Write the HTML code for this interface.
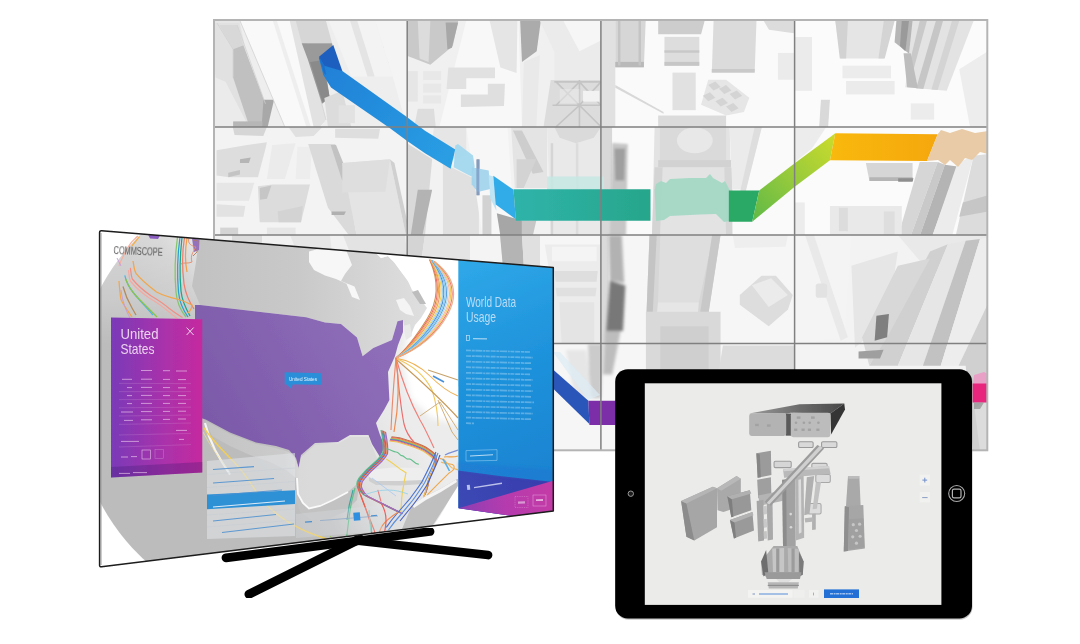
<!DOCTYPE html>
<html>
<head>
<meta charset="utf-8">
<title>Device mockups</title>
<style>
html,body{margin:0;padding:0;background:#ffffff;}
body{width:1080px;height:644px;overflow:hidden;font-family:"Liberation Sans",sans-serif;}
svg{display:block;position:absolute;left:0;top:0;}
text{font-family:"Liberation Sans",sans-serif;}
</style>
</head>
<body>
<svg width="1080" height="644" viewBox="0 0 1080 644">
<defs>
  <clipPath id="wallclip"><rect x="213" y="19" width="775" height="432"/></clipPath>
  <filter id="b1" x="-5%" y="-5%" width="110%" height="110%"><feGaussianBlur stdDeviation="0.7"/></filter>
  <filter id="b2" x="-10%" y="-10%" width="120%" height="120%"><feGaussianBlur stdDeviation="1.6"/></filter>
  <filter id="b8" x="-30%" y="-10%" width="160%" height="120%"><feGaussianBlur stdDeviation="7"/></filter>
  <filter id="b3" x="-20%" y="-20%" width="140%" height="140%"><feGaussianBlur stdDeviation="3"/></filter>
  <linearGradient id="gBlue" gradientUnits="userSpaceOnUse" x1="320" y1="60" x2="455" y2="160">
    <stop offset="0" stop-color="#1f7fd6"/><stop offset="1" stop-color="#2a9fe4"/>
  </linearGradient>
  <linearGradient id="gTeal" gradientUnits="userSpaceOnUse" x1="514" y1="0" x2="650" y2="0">
    <stop offset="0" stop-color="#2fb3aa"/><stop offset="1" stop-color="#27a68b"/>
  </linearGradient>
  <linearGradient id="gLime" gradientUnits="userSpaceOnUse" x1="752" y1="215" x2="835" y2="140">
    <stop offset="0" stop-color="#62ba46"/><stop offset="0.45" stop-color="#93c93d"/><stop offset="1" stop-color="#c8da2c"/>
  </linearGradient>
  <linearGradient id="gOrange" gradientUnits="userSpaceOnUse" x1="830" y1="0" x2="938" y2="0">
    <stop offset="0" stop-color="#f9b90a"/><stop offset="1" stop-color="#f5a70f"/>
  </linearGradient>
<filter id="soft" x="0" y="0" width="1080" height="644" filterUnits="userSpaceOnUse"><feGaussianBlur stdDeviation="0.55"/></filter>
</defs>
<rect width="1080" height="644" fill="#ffffff"/>
<g filter="url(#soft)">
<!-- ================= VIDEO WALL ================= -->
<g clip-path="url(#wallclip)">
<rect x="213" y="19" width="775" height="432" fill="#efefef"/>
<g filter="url(#b1)">
<!-- cell 0,0 -->
<g transform="translate(213,19) scale(0.17963)">
  <rect x="0" y="0" width="1080" height="601" fill="#eeeeee"/>
  <polygon points="0,0 146,0 281,646 0,646" fill="#e6e6e6"/>
  <polygon points="11,22 146,22 281,646 112,646 11,300" fill="#e1e1e1"/>
  <polygon points="34,34 135,34 169,146 112,169" fill="#d8d8d8"/>
  <polygon points="112,169 169,146 292,472 270,640 213,629 112,326" fill="#c0c0c0"/>
  <polygon points="0,320 70,350 200,601 0,601" fill="#ebebeb"/>
  <polygon points="281,450 340,450 303,607 268,640" fill="#a8a8a8"/>
  <polygon points="112,570 275,570 275,601 112,601" fill="#b6b6b6"/>
  <polygon points="146,0 483,0 629,562 600,601 400,601" fill="#f9f9f9"/>
  <polygon points="425,0 483,0 629,562 596,601 560,601" fill="#e2e2e2"/>
  <polygon points="330,0 352,0 545,601 520,601" fill="#eeeeee"/>
  <g stroke="#cfcfcf" stroke-width="4" fill="none"><path d="M146,0 L400,601 M483,0 L629,562 M22,22 L112,169 L112,326 M135,34 L292,472"/></g>
  <polygon points="461,11 629,11 663,135 494,135" fill="#d6d6d6"/>
  <polygon points="494,135 663,135 674,202 629,300 650,440 607,472 528,225" fill="#9a9a9a"/>
  <polygon points="540,240 610,230 650,440 610,465" fill="#8a8a8a"/>
  <polygon points="640,0 900,0 1000,320 770,320" fill="#f3f3f3"/>
  <polygon points="760,0 800,0 900,320 860,320" fill="#e4e4e4"/>
  <polygon points="620,440 720,400 770,601 640,601" fill="#dcdcdc"/>
  <rect x="950" y="90" width="110" height="70" fill="#d9d9d9"/>
  <rect x="975" y="180" width="80" height="65" fill="#dddddd"/>
  <rect x="700" y="480" width="90" height="100" fill="#e2e2e2"/>
  <polygon points="900,0 1080,0 1080,601 1000,320" fill="#f4f4f4"/>
</g>
<!-- cell 0,1 -->
<g transform="translate(407,19) scale(0.17963)">
  <rect x="0" y="0" width="1080" height="601" fill="#f0f0f0"/>
  <polygon points="0,10 285,10 255,150 130,255 0,205" fill="#c9c9c9"/>
  <polygon points="60,10 130,10 120,240 70,220" fill="#dcdcdc"/>
  <polygon points="215,20 285,20 250,160 225,170" fill="#a8a8a8"/>
  <polygon points="330,10 620,10 640,601 180,601" fill="#f8f8f8"/>
  <polygon points="460,10 615,10 610,300 520,270" fill="#e5e5e5"/>
  <polygon points="630,10 745,10 722,180 640,240" fill="#ababab"/>
  <polygon points="230,270 490,270 490,330 330,330 330,390 220,390" fill="#e1e1e1"/>
  <polygon points="300,420 450,420 450,360 545,360 540,485 300,490" fill="#dfdfdf"/>
  <rect x="0" y="290" width="60" height="170" fill="#e6e6e6"/>
  <rect x="90" y="290" width="100" height="50" fill="#e8e8e8"/>
  <rect x="90" y="360" width="100" height="50" fill="#e8e8e8"/>
  <rect x="90" y="425" width="100" height="45" fill="#e8e8e8"/>
  <polygon points="60,500 150,500 160,601 40,601" fill="#dddddd"/>
  <polygon points="650,240 740,200 720,601 640,601" fill="#e9e9e9"/>
  <polygon points="740,10 1080,10 1080,340 820,340 820,180" fill="#ebebeb"/>
  <polygon points="870,10 1080,10 1080,120 960,180" fill="#f6f6f6"/>
  <polygon points="800,340 1080,340 1080,601 760,601" fill="#dcdcdc"/>
  <g stroke="#c4c4c4" stroke-width="9" fill="none"><path d="M820,350 L1080,350 M810,480 L1080,480 M830,350 L960,480 L830,600 M960,350 L830,480 M960,350 L1080,480 M1080,350 L960,480 L1080,600 M960,340 L960,601"/></g>
  <polygon points="850,390 960,390 960,470 850,470" fill="#ececec" opacity="0.5"/>
  <polygon points="980,400 1070,400 1070,460 980,460" fill="#f2f2f2"/>
</g>
<!-- cell 0,2 -->
<g transform="translate(601,19) scale(0.1787)">
  <rect x="0" y="0" width="1080" height="604" fill="#fafafa"/>
  <rect x="0" y="0" width="80" height="604" fill="#e1e1e1"/>
  <polygon points="80,10 250,10 240,270 80,270" fill="#d6d6d6"/>
  <rect x="80" y="240" width="160" height="30" fill="#b9b9b9"/>
  <rect x="95" y="10" width="14" height="250" fill="#c4c4c4"/>
  <rect x="210" y="10" width="14" height="250" fill="#c4c4c4"/>
  <polygon points="320,10 580,10 560,85 320,85" fill="#cdcdcd"/>
  <rect x="355" y="100" width="195" height="160" fill="#dddddd"/>
  <rect x="355" y="175" width="195" height="14" fill="#c8c8c8"/>
  <rect x="355" y="240" width="195" height="22" fill="#c6c6c6"/>
  <polygon points="630,10 870,10 860,300 620,300" fill="#dbdbdb"/>
  <rect x="620" y="280" width="240" height="20" fill="#c9c9c9"/>
  <rect x="400" y="300" width="130" height="210" fill="#e1e1e1"/>
  <polygon points="600,340 700,340 830,440 800,520 700,540 560,480" fill="#e6e6e6"/>
  <g fill="#d4d4d4"><polygon points="600,370 640,350 670,380 630,400"/><polygon points="660,390 700,370 730,400 690,420"/><polygon points="720,420 760,400 790,430 750,450"/><polygon points="570,430 610,410 640,440 600,460"/><polygon points="640,460 680,440 710,470 670,490"/><polygon points="700,490 740,470 770,500 730,520"/></g>
  <polygon points="320,540 700,540 700,604 320,604" fill="#dbdbdb"/>
  <polygon points="80,370 350,520 350,530 80,385" fill="#d8d8d8"/>
  <polygon points="910,10 1080,10 1080,80 940,60" fill="#dcdcdc"/>
  <rect x="990" y="190" width="90" height="150" fill="#ebebeb"/>
</g>
<!-- cell 0,3 -->
<g transform="translate(794,19) scale(0.17963)">
  <rect x="0" y="0" width="1080" height="601" fill="#fbfbfb"/>
  <rect x="0" y="100" width="100" height="300" fill="#ebebeb"/>
  <polygon points="230,10 560,10 500,220 260,220" fill="#e5e5e5"/>
  <polygon points="230,10 300,10 290,220 255,220" fill="#d2d2d2"/>
  <polygon points="500,10 560,10 505,220 470,220" fill="#d4d4d4"/>
  <polygon points="570,10 730,10 650,200 560,130" fill="#b6b6b6"/>
  <polygon points="600,10 640,10 620,180 590,150" fill="#9a9a9a"/>
  <polygon points="660,10 1000,10 850,400 620,380" fill="#e3e3e3"/>
  <polygon points="790,10 830,10 720,390 680,385" fill="#c6c6c6"/>
  <polygon points="700,10 740,10 660,300 630,300" fill="#c9c9c9"/>
  <polygon points="880,10 920,10 800,395 765,392" fill="#d4d4d4"/>
  <polygon points="610,190 650,190 690,385 630,380" fill="#bdbdbd"/>
  <rect x="270" y="260" width="270" height="70" fill="#ececec"/>
  <rect x="290" y="345" width="270" height="75" fill="#ebebeb"/>
  <rect x="650" y="470" width="130" height="90" fill="#ececec"/>
  <polygon points="150,450 200,450 190,601 140,601" fill="#d9d9d9"/>
  <polygon points="920,280 1080,180 1080,601 980,601" fill="#ededed"/>
</g>
<!-- cell 1,0 -->
<g transform="translate(213,127) scale(0.17963)">
  <rect x="0" y="0" width="1080" height="607" fill="#f3f3f3"/>
  <polygon points="110,0 300,0 280,50 120,45" fill="#d6d6d6"/>
  <polygon points="420,0 610,0 560,50 460,55" fill="#e0e0e0"/>
  <polygon points="680,10 930,10 920,65 680,60" fill="#dedede"/>
  <polygon points="20,130 190,100 300,85 290,130 250,280 90,280 20,270" fill="#dddddd"/>
  <polygon points="150,180 210,170 200,200 150,200" fill="#b5b5b5"/>
  <polygon points="85,255 150,240 150,265 85,280" fill="#c4c4c4"/>
  <polygon points="330,100 460,90 400,290 300,290" fill="#ebebeb"/>
  <polygon points="470,110 550,110 540,290 460,290" fill="#ededed"/>
  <polygon points="20,310 230,310 200,410 20,410" fill="#e6e6e6"/>
  <polygon points="20,430 180,440 170,500 20,500" fill="#e2e2e2"/>
  <polygon points="250,330 330,320 540,320 490,530 260,530" fill="#dcdcdc"/>
  <polygon points="260,340 325,325 300,400 262,405" fill="#c6c6c6"/>
  <polygon points="360,470 500,440 490,530 365,530" fill="#d3d3d3"/>
  <polygon points="40,560 140,560 140,607 40,607" fill="#d4d4d4"/>
  <polygon points="530,95 680,95 740,250 800,607 760,607 640,450" fill="#dadada"/>
  <polygon points="655,100 685,100 745,250 720,300" fill="#c2c2c2"/>
  <polygon points="720,200 985,180 1075,607 800,607" fill="#e4e4e4"/>
  <polygon points="720,200 985,180 960,360 720,365" fill="#dedede"/>
  <polygon points="985,180 1010,200 1080,520 1075,607" fill="#d0d0d0"/>
  <polygon points="660,470 740,470 730,490 660,490" fill="#b0b0b0"/>
  <polygon points="300,560 460,560 460,607 300,607" fill="#e6e6e6"/>
</g>
<!-- cell 1,1 -->
<g transform="translate(407,127) scale(0.17963)">
  <rect x="0" y="0" width="1080" height="607" fill="#f2f2f2"/>
  <polygon points="0,90 140,180 100,607 0,607" fill="#d9d9d9"/>
  <polygon points="60,350 140,350 85,607 20,607" fill="#b3b3b3"/>
  <polygon points="150,0 330,0 330,150 200,200 130,170" fill="#e6e6e6"/>
  <polygon points="200,200 400,300 400,607 200,607" fill="#e0e0e0"/>
  <polygon points="330,0 560,0 600,607 420,607" fill="#f7f7f7"/>
  <rect x="388" y="180" width="16" height="200" fill="#9a9a9a"/>
  <polygon points="420,380 470,380 470,607 420,607" fill="#d2d2d2"/>
  <polygon points="500,480 640,520 640,607 520,607" fill="#a6a6a6"/>
  <polygon points="580,0 780,0 780,340 600,340" fill="#e4e4e4"/>
  <polygon points="590,20 640,20 760,250 700,260" fill="#cdcdcd"/>
  <polygon points="610,180 720,180 650,340 610,340" fill="#d3d3d3"/>
  <polygon points="780,0 1080,0 1080,607 800,607" fill="#e9e9e9"/>
  <polygon points="820,0 1080,0 1040,60 940,90 850,60" fill="#dadada"/>
  <rect x="800" y="90" width="14" height="517" fill="#d5d5d5"/>
  <rect x="940" y="90" width="14" height="517" fill="#dcdcdc"/>
  <polygon points="640,520 720,520 700,607 640,607" fill="#c6c6c6"/>
</g>
<!-- cell 1,2 -->
<g transform="translate(601,127) scale(0.1787)">
  <rect x="0" y="0" width="1080" height="610" fill="#fafafa"/>
  <rect x="0" y="0" width="62" height="610" fill="#d8d8d8"/>
  <g filter="url(#b8)"><polygon points="62,90 150,95 140,610 50,610" fill="#c6c6c6"/>
  <polygon points="75,120 135,120 130,300 80,300" fill="#9f9f9f"/></g>
  <polygon points="300,0 720,0 735,610 285,610" fill="#e3e3e3"/>
  <polygon points="330,0 700,0 700,185 330,185" fill="#dadada"/>
  <ellipse cx="525" cy="75" rx="100" ry="72" fill="#e8e8e8"/>
  <rect x="320" y="185" width="410" height="40" fill="#d2d2d2"/>
  <polygon points="300,225 345,225 330,610 285,610" fill="#d4d4d4"/>
  <polygon points="690,225 735,225 735,610 700,610" fill="#d6d6d6"/>
  <polygon points="720,0 900,0 810,350 735,350" fill="#ebebeb"/>
  <polygon points="860,0 900,0 800,400 770,400" fill="#dedede"/>
</g>
<!-- cell 1,3 -->
<g transform="translate(794,127) scale(0.17963)">
  <rect x="0" y="0" width="1080" height="607" fill="#fbfbfb"/>
  <polygon points="0,0 180,0 100,120 0,200" fill="#ececec"/>
  <polygon points="400,200 660,200 660,300 420,300" fill="#d6d6d6"/>
  <polygon points="420,280 660,280 660,300 420,300" fill="#b5b5b5"/>
  <polygon points="580,285 665,285 660,305 580,305" fill="#8e8e8e"/>
  <polygon points="700,195 800,195 650,607 580,607" fill="#d6d6d6"/>
  <polygon points="800,195 840,210 700,607 650,607" fill="#c9c9c9"/>
  <polygon points="840,210 910,220 770,607 700,607" fill="#b4b4b4"/>
  <polygon points="910,200 1000,160 880,607 770,607" fill="#ececec"/>
  <polygon points="1000,160 1080,150 1080,607 900,607" fill="#dcdcdc"/>
  <polygon points="940,420 1080,380 1080,470 920,500" fill="#c6c6c6"/>
  <polygon points="200,440 600,440 600,607 200,607" fill="#e9e9e9"/>
  <polygon points="250,450 300,450 300,580 250,580" fill="#dcdcdc"/>
  <polygon points="500,470 560,470 560,607 500,607" fill="#dedede"/>
  <rect x="0" y="420" width="60" height="187" fill="#ececec"/>
</g>
</g>
</g>
<g clip-path="url(#wallclip)">
<g filter="url(#b1)">
<!-- row 3 wedge above TV -->
<g>
  <polygon points="213,235 407,235 407,262 213,244" fill="#f1f1f1"/>
  <polygon points="343,235 405,235 408,262 352,258" fill="#e3e3e3"/>
  <polygon points="232,235 262,235 262,247 232,245" fill="#dcdcdc"/>
  <polygon points="290,235 330,235 332,254 296,250" fill="#e6e6e6"/>
  <polygon points="407,235 425,235 421,263 407,262" fill="#d4d4d4"/>
  <polygon points="425,235 470,235 470,266 421,263" fill="#e4e4e4"/>
  <polygon points="470,235 500,235 503,268 470,266" fill="#f4f4f4"/>
  <polygon points="500,235 522,235 524,270 503,268" fill="#b4b4b4"/>
  <polygon points="522,235 553,235 553,272 524,270" fill="#e0e0e0"/>
</g>
<!-- rows 3-4 left/middle : zoom [540,230,800,375] scale 4.154 -->
<g transform="translate(540,230) scale(0.24074)">
  <rect x="0" y="20" width="1080" height="920" fill="#f6f6f6"/>
  <polygon points="20,60 250,60 250,470 60,470 60,300" fill="#ececec"/>
  <polygon points="50,70 235,70 235,130 50,130" fill="#f4f4f4"/>
  <polygon points="60,170 240,170 235,215 65,215" fill="#dedede"/>
  <polygon points="65,240 235,240 230,275 70,275" fill="#e0e0e0"/>
  <polygon points="80,300 225,300 225,470 90,470" fill="#e4e4e4"/>
  <polygon points="250,20 285,20 285,470 250,470" fill="#dadada"/>
  <polygon points="455,20 750,20 690,410 440,410" fill="#d6d6d6"/>
  <polygon points="500,20 720,20 660,300 490,300" fill="#dedede"/>
  <polygon points="455,20 485,20 465,410 440,410" fill="#c4c4c4"/>
  <polygon points="715,20 750,20 690,410 655,410" fill="#c8c8c8"/>
  <polygon points="490,300 660,300 650,410 480,410" fill="#e6e6e6"/>
  <polygon points="800,20 1030,20 1020,70 810,75" fill="#eeeeee"/>
  <polygon points="830,270 920,190 980,190 1050,270 1030,330 950,400 830,310" fill="#dddddd"/>
  <polygon points="880,230 960,200 1030,270 950,320" fill="#ebebeb"/>
  <polygon points="440,340 750,340 750,600 440,600" fill="#d9d9d9"/>
  <polygon points="500,400 700,400 700,600 500,600" fill="#cfcfcf"/>
  <polygon points="760,480 1080,480 1080,600 740,600" fill="#dcdcdc"/>
</g>
<g filter="url(#b2)">
  <polygon points="608.6,235 621.8,235 624.2,283 609.8,280.5" fill="#b2b2b2"/>
  <polygon points="609.8,280.5 625.4,285.4 623,331 606.2,331" fill="#787878"/>
  <polygon points="605,331 620.6,331 612.2,374.4 603,374.4" fill="#bdbdbd"/>
  <polygon points="588,344 603,344 601,398 590,398" fill="#cbcbcb"/>
  <polygon points="566,350 586,350 592,398 575,398" fill="#e6e6e6"/>
</g>
<!-- rows 3-4 right : zoom [780,230,1000,460] scale 2.8 -->
<g transform="translate(780,230) scale(0.35714)">
  <rect x="40" y="14" width="545" height="610" fill="#f3f3f3"/>
  <polygon points="40,14 200,14 180,300 40,320" fill="#f4f4f4"/>
  <polygon points="70,14 95,14 190,300 170,310" fill="#e9e9e9"/>
  <rect x="100" y="150" width="32" height="40" rx="8" fill="#e2e2e2"/>
  <polygon points="200,100 330,60 300,250 210,330" fill="#e6e6e6"/>
  <polygon points="330,14 585,14 585,120 420,120" fill="#e9e9e9"/>
  <polygon points="420,60 470,40 330,380 250,380" fill="#d0d0d0"/>
  <polygon points="470,40 520,30 400,380 330,380" fill="#e6e6e6"/>
  <polygon points="520,30 560,25 450,380 400,380" fill="#c2c2c2"/>
  <polygon points="560,25 585,20 585,200 500,380 450,380" fill="#ededed"/>
  <polygon points="585,200 585,620 540,620 520,380 500,380" fill="#d0d0d0"/>
  <polygon points="330,100 420,80 300,300 250,380 230,300" fill="#d8d8d8"/>
  <polygon points="270,240 305,235 300,300 265,310" fill="#7f7f7f"/>
  <polygon points="220,340 290,335 280,360 220,360" fill="#9f9f9f"/>
  <polygon points="545,500 585,470 585,620 560,620" fill="#dcdcdc"/>
</g>
</g>
</g>
<g clip-path="url(#wallclip)">
  <!-- faint translucent pieces -->
  <polygon points="547,176.4 604,176.4 604,190 547,190" fill="#c6e8e3" opacity="0.85"/>
  <!-- main blue diagonal -->
  <polygon points="318.8,57.5 333,60 342.3,71 390,105 406.5,116.7 425,130.8 455.3,149.4 453,159 450.6,168.8 425,153.3 406.5,140.4 390,128.3 331,87.5 323.3,75" fill="url(#gBlue)"/>
  <polygon points="319,56.7 333.3,45 342.3,71.1 324.4,65.7" fill="#1f5fbe"/>
  <polygon points="319,56.7 324.4,65.7 326,75 324,73" fill="#1b6fcb"/>
  <!-- translucent through glass -->
  <polygon points="455.3,145.5 458,144 473,155.6 474.7,166.5 471.6,176.6 468.5,175 453.7,167.3" fill="#a4d8ef" opacity="0.95" filter="url(#b1)"/>
  <polygon points="471.6,167.3 488.7,170.4 490.2,189 477.8,192 471.6,184.3" fill="#9fd2ec" opacity="0.9" filter="url(#b1)"/>
  <polygon points="488.7,175 493.3,176.6 496.4,210.7 490.2,198.3" fill="#b9e2f3" opacity="0.9" filter="url(#b1)"/>
  <polygon points="476.4,159.5 479.2,159.5 479.2,195.2 476.4,195.2" fill="#7f9cc4" opacity="0.8"/>
  <polygon points="493.3,175.8 513.5,189.8 515.8,219.3 495.7,204.5" fill="#33abe9"/>
  <!-- teal flat -->
  <polygon points="513.5,189.2 650.5,189.2 650.5,220.7 515.8,220.7" fill="url(#gTeal)"/>
  <!-- translucent green over tower -->
  <path d="M654.6,190 L656,184 L661,181 L666,183 L670,179 L690,178 L706,178 L710,174 L713,178 L722,183 L725,181 L729.7,190 L729.7,221 L724,222 L716,214 L700,214.5 L670,216 L664,220 L656,221 Z" fill="#a5d9c6" opacity="0.95" filter="url(#b1)"/>
  <polygon points="728.8,190.4 759.2,190.4 752.2,221.7 728.8,221.7" fill="#2aa865"/>
  <polygon points="759.2,190.4 794,163.8 835.3,133.3 830,160.2 794,187.2 752.2,221.7" fill="url(#gLime)"/>
  <polygon points="835.3,133.3 937.7,134.2 927,161.1 830,160.2" fill="url(#gOrange)"/>
  <path d="M937.7,134.2 L941,130 L950,133 L962,129 L975,133 L988,131 L988,154 L980,152 L972,160 L965,158 L958,167 L950,160 L945,165 L938,160 L927,161.1 Z" fill="#e8c9a3" opacity="0.95" filter="url(#b1)"/>
  <!-- lower blue / purple -->
  <polygon points="553,352 560,352 600,395 588,400" fill="#dcebf5" opacity="0.7"/>
  <polygon points="553,369.4 588.4,400.7 589.4,424 553,388.6" fill="#2b57ba"/>
  <polygon points="588.4,400.7 616,400.7 616,425 589.4,425" fill="#7b2fa8"/>
  <!-- pink end -->
  <polygon points="974,375 984,372 988,374 988,384 973,384" fill="#e9a0c6"/>
  <polygon points="972.5,383.5 988,383.5 988,402.5 972.5,402.5" fill="#e8257d"/>
  <polygon points="974,402.5 984,402.5 980,409 974,409" fill="#8e8e8e" opacity="0.7"/>
</g>
<g fill="none" stroke="#808080" stroke-width="1.5">
  <path d="M407.2,20V451 M600.9,20V451 M794.6,20V451"/>
  <path d="M214,126.9H988 M214,234.9H988 M214,343.4H988"/>
</g>
<rect x="214" y="20" width="773.3" height="430.3" fill="none" stroke="#b4b4b4" stroke-width="2"/>
<!-- ================= TV ================= -->
<defs>
  <clipPath id="tvclip"><path d="M101.6,230.8 L553.3,267.4 L553.3,511 L101.6,566.7 Q99.6,567 99.6,565.6 L99.6,232.6 Q99.6,230.6 101.6,230.8 Z"/></clipPath>
  <linearGradient id="gGlobe" gradientUnits="userSpaceOnUse" x1="290" y1="520" x2="420" y2="440">
    <stop offset="0" stop-color="#bcbcbc"/><stop offset="0.22" stop-color="#c2c2c2"/><stop offset="0.55" stop-color="#e0e0e0"/><stop offset="0.8" stop-color="#e6e6e6"/><stop offset="1" stop-color="#ececec"/>
  </linearGradient>
  <linearGradient id="gGlobeTop" gradientUnits="userSpaceOnUse" x1="0" y1="232" x2="0" y2="345">
    <stop offset="0" stop-color="#ffffff" stop-opacity="0.38"/><stop offset="0.6" stop-color="#ffffff" stop-opacity="0.22"/><stop offset="1" stop-color="#ffffff" stop-opacity="0"/>
  </linearGradient>
  <linearGradient id="gMex" gradientUnits="userSpaceOnUse" x1="205" y1="0" x2="310" y2="0">
    <stop offset="0" stop-color="#c4c4c4"/><stop offset="0.75" stop-color="#cbcbcb"/><stop offset="0.9" stop-color="#d9d9d9"/><stop offset="1" stop-color="#dadada"/>
  </linearGradient>
  <linearGradient id="gCan" gradientUnits="userSpaceOnUse" x1="200" y1="0" x2="420" y2="0">
    <stop offset="0" stop-color="#c2c2c2"/><stop offset="0.45" stop-color="#c9c9c9"/><stop offset="1" stop-color="#dedede"/>
  </linearGradient>
  <linearGradient id="gUS" gradientUnits="userSpaceOnUse" x1="200" y1="440" x2="400" y2="320">
    <stop offset="0" stop-color="#7a58a8"/><stop offset="1" stop-color="#9170bb"/>
  </linearGradient>
  <linearGradient id="gPanL" gradientUnits="userSpaceOnUse" x1="111" y1="0" x2="203" y2="0">
    <stop offset="0" stop-color="#7a3ab8"/><stop offset="0.55" stop-color="#a732ab"/><stop offset="1" stop-color="#c62a9f"/>
  </linearGradient>
  <linearGradient id="gPanR" gradientUnits="userSpaceOnUse" x1="458" y1="262" x2="553" y2="470">
    <stop offset="0" stop-color="#2fa8e8"/><stop offset="0.5" stop-color="#1f93dc"/><stop offset="1" stop-color="#1a84d2"/>
  </linearGradient>
  <linearGradient id="gInd" gradientUnits="userSpaceOnUse" x1="458" y1="500" x2="553" y2="478">
    <stop offset="0" stop-color="#3a48b4"/><stop offset="1" stop-color="#3a3cae"/>
  </linearGradient>
  <linearGradient id="gMag" gradientUnits="userSpaceOnUse" x1="458" y1="508" x2="553" y2="495">
    <stop offset="0" stop-color="#8a3fb4"/><stop offset="0.5" stop-color="#b53bae"/><stop offset="1" stop-color="#c43aa6"/>
  </linearGradient>
</defs>
<!-- stand -->
<g stroke="#050505" stroke-linecap="round" fill="none" filter="url(#b1)">
  <line x1="226" y1="557.8" x2="430" y2="531.5" stroke-width="8.8"/>
  <line x1="249" y1="594.3" x2="360" y2="539" stroke-width="9"/>
  <line x1="356" y1="540.5" x2="488" y2="555" stroke-width="8.8"/>
</g>
<g clip-path="url(#tvclip)">
  <rect x="95" y="225" width="465" height="350" fill="#ffffff"/>
  <ellipse cx="274" cy="395.5" rx="200" ry="216" fill="url(#gGlobe)"/>
  <ellipse cx="274" cy="395.5" rx="200" ry="216" fill="url(#gGlobeTop)"/>
  <polygon points="372,246 462,256 462,425 432,418 410,398 403,362 408,335 404,300" fill="#ffffff" filter="url(#b3)"/>
  <!-- landmass bottom right (south america, extruded) -->
  <g filter="url(#b1)">
    <polygon points="412,505 424,497 440,489 456,479.5 458,479 458,486 446,505 432.4,526 402,529" fill="#bfbfbf"/>
    <polygon points="412,505 424,497 440,489 456,479.5 457,482 441,492 426,500 414,508" fill="#f4f4f4"/>
    <polygon points="369,470 392,467.6 420,468 425.6,472 424,480 400,481 376,481 369,477" fill="#eeeeee"/>
    <polygon points="369,477 376,481 400,481 424,480 423,484 400,485.5 376,485 369,481" fill="#cfcfcf"/>
  </g>
  <!-- Canada -->
  <g filter="url(#b1)">
  <polygon points="199,238 376,253 381,258 388,256 394,262 408,281 412,290 416,294.4 421,300 427,308 421,318 415,325 411,334.7 405,332 403,320 397.5,321.3 392,340 373.3,348 362.6,356.2 357,337.4 341,324 325,322.6 306.2,317.3 200,305 192,286 196,262" fill="url(#gCan)"/>
  
  <!-- Hudson bay & lakes (white) -->
  <polygon points="309,251.5 320,248.6 346.5,251 352,265 345,274 341,281 354.5,286.4 360,300 352,297 346.5,283.7 336,279 325,275.6 314,270 309,262" fill="#f7f7f7"/>
  <polygon points="376,253 553,267 553,300 430,300 421,300 416,294 408,281 394,262 388,256 381,258" fill="#ffffff"/>
  <polygon points="396,300 404,298 410,306 414,316 406,314 400,310" fill="#f4f4f4"/>
  <polygon points="412,292 418,290 426,304 420,304" fill="#bdbdbd"/>
  <polygon points="403,326 410,324 412,336 406,340" fill="#e9e9e9"/>
  <!-- Alaska purple -->
  <polygon points="192,238.5 199.5,239.5 199,250 194,252" fill="#9471bd"/>
  <polygon points="148,234.5 160,235.5 158,239 150,238.5" fill="#8a5cc0"/>
  <!-- USA -->
  <polygon points="200,305 306.2,317.3 325,322.6 341,324 357,337.4 362.6,356.2 373.3,348 392,340 397.5,321.3 403,320 403,332 398,345 395,356 388,372 389.4,400 384,410 376,423 380,435 384.8,446.6 380,457 372,444 368.5,435 350,435 338,442 315,443 301,455 298.6,467.5 296,458 289,450 276,446 256,442.4 230,432.6 205.6,419.6 195,416 195,305" fill="url(#gUS)"/>
  <!-- Mexico (raised) -->
  <polygon points="296,480 300,470 315,462 338,458 352,470 360,480 357,500 345,512 330,518 312,520 300,512 296,500" fill="#c2c2c2"/>
  <polygon points="205.6,421 230,434 256,444 276,448 289,452 296,460 298.6,469 301,457 315,445 338,444 350,437 368.5,437 372,446 377,458 372,470 357,484 348,492 332,500 318,506 308,508 302,503 297,492 296,478 286,470 270,462 250,455 230,446 212,436" fill="url(#gMex)"/>
  <path d="M297,478 L298,494 L303,503 L309,508.5 L320,506 L333,500 L348,492" fill="none" stroke="#fafafa" stroke-width="1.8"/>
  <path d="M205,423 L209,436 L215,450 L222,462 L230,474.5" fill="none" stroke="#f4f4f4" stroke-width="2.2"/>
  </g>
  <!-- cables: top-left cluster -->
  <g fill="none" stroke-width="1.25" opacity="1" filter="url(#b1)">
    <path d="M177.5,237 C175,255 174.5,275 176,292 C177,304 181,311 186,317" stroke="#86c46a"/>
    <path d="M180,237 C177.5,255 177,275 178.5,292 C179.5,303 183,310 188,317" stroke="#2a9fd6"/>
    <path d="M182,237.5 C180,255 179.5,275 181,291 C182,301 185.5,308 190,316" stroke="#1aa68a"/>
    <path d="M184.5,237.5 C182.5,250 182,268 184,284 C186,296 190,303 194,309" stroke="#ef7d6a"/>
    <path d="M187,238 C185,250 185,262 187,272" stroke="#f0a04a"/>
    <path d="M189,238 C187,244 192,246 196,247 C193,252 190,256 192,262 C188,264 184,262 181,264" stroke="#e58a6a" stroke-width="0.9"/>
    <path d="M193,240 L198,241 L197,252 L193,256" stroke="#b07a5a" stroke-width="0.9"/>
    <path d="M133,261 C134,266 134,270 136,273.4 C142,281 150,287 156.5,292 C164,296 172,298 178.8,299.5 C184,301 188,303 192,305 C192,309 190,311 188,313" stroke="#f2a64a"/>
    <path d="M130.4,267.8 C131,272 131,276 132.3,279 C138,286 144,291 150.9,295.8 C158,300 164,304 169.5,308.8 C174,312 178,315 182.5,317.5" stroke="#f28f84"/>
    <path d="M128.5,270 C129,274 129,278 130.3,281 C136,288 142,293 148.9,297.8 C156,302 162,306 167.5,310.8 C172,314 175,317 178,319" stroke="#f5a9a0"/>
    <path d="M119,281 C119.5,288 120,294 121,299.5 C124,306 128,311 132,317" stroke="#f2a64a"/>
    <path d="M124.8,275.3 C126,282 130,289 136,296 C142,303 148,309 153,315" stroke="#4ab5e8"/>
    <path d="M125.7,279 C128,286 132,292 138,298 C145,305 151,311 157,317" stroke="#8bc34a"/>
    <path d="M123,286.5 C125,294 128,301 132,308 L136,315" stroke="#b58a5b"/>
    <path d="M121,290 C122,298 124,305 127,312 L130,318" stroke="#c79ad8" stroke-width="0.9"/>
    <path d="M137.8,236 C135,239 132,241 130.4,243.6 C127,248 125,252 123,256.7 C121,260 120,263 119,266" stroke="#f5b0a0"/>
    <path d="M139.5,236.5 C137,240 134,243 132,246" stroke="#f2b04e"/>
    <path d="M117,258 L121,266" stroke="#c79ad8" stroke-width="0.9"/>
  </g>
  <!-- cables: east coast fan -->
  <g fill="none" stroke-width="1.05" opacity="1" filter="url(#b1)">
    <path d="M396,358 Q410.0,346.0 427.0,319.0 T429.5,259.5" stroke="#c98f52"/>
    <path d="M396,358 Q411.7,345.8 428.6,318.6 T429.9,259.7" stroke="#ef6a5c"/>
    <path d="M396,358 Q413.4,345.7 430.2,318.2 T430.3,259.8" stroke="#f3a44b"/>
    <path d="M396,358 Q415.1,345.5 431.8,317.8 T430.7,260.0" stroke="#e99a6a"/>
    <path d="M396,358 Q416.8,345.4 433.5,317.5 T431.0,260.1" stroke="#f2d35a"/>
    <path d="M396,358 Q418.5,345.2 435.1,317.1 T431.4,260.3" stroke="#9ad0ef"/>
    <path d="M396,358 Q420.2,345.1 436.7,316.7 T431.8,260.4" stroke="#4a8fd8"/>
    <path d="M396,358 Q421.8,344.9 438.3,316.3 T432.2,260.6" stroke="#7fc7ea"/>
    <path d="M396,358 Q423.5,344.8 439.9,315.9 T432.6,260.7" stroke="#5aa0e0"/>
    <path d="M396,358 Q425.2,344.6 441.5,315.5 T433.0,260.9" stroke="#a8d8f0"/>
    <path d="M396,358 Q426.9,344.5 443.2,315.2 T433.3,261.0" stroke="#f4b9a0"/>
    <path d="M396,358 Q428.6,344.3 444.8,314.8 T433.7,261.2" stroke="#f2c85a"/>
    <path d="M396,358 Q430.3,344.2 446.4,314.4 T434.1,261.3" stroke="#ef7a6a"/>
    <path d="M396,358 Q432.0,344.0 448.0,314.0 T434.5,261.5" stroke="#e7b08a"/>
    <path d="M395,358 C408,360 420,366 430,376 C438,384 448,392 458,396" stroke="#f0b050"/>
    <path d="M395,358 C410,364 424,374 432,390 C436,402 438,414 438,426" stroke="#f2c85a"/>
    <path d="M428,370 L458,380" stroke="#c7a36a"/>
    <path d="M433,376 L444,382" stroke="#4a90d9" stroke-width="1.6"/>
  </g>
  <!-- cables: caribbean cluster -->
  <g fill="none" stroke-width="1.15" opacity="1" filter="url(#b1)">
    <path transform="translate(0.0,0.0)" d="M381,430 C383,440 384,446 383,452 C380,458 376,461 372.7,464 C368,468 364,472 360.7,476 C357,480 356,483 357.3,486.3 C359,490 361,493 364,495 C370,498 376,501 381.2,503.4 C388,507 394,509.6 398.3,512" stroke="#63c08a"/>
    <path transform="translate(0.9,0.3)" d="M381,430 C383,440 384,446 383,452 C380,458 376,461 372.7,464 C368,468 364,472 360.7,476 C357,480 356,483 357.3,486.3 C359,490 361,493 364,495 C370,498 376,501 381.2,503.4 C388,507 394,509.6 398.3,512" stroke="#3aa6a0"/>
    <path transform="translate(1.8,0.7)" d="M381,430 C383,440 384,446 383,452 C380,458 376,461 372.7,464 C368,468 364,472 360.7,476 C357,480 356,483 357.3,486.3 C359,490 361,493 364,495 C370,498 376,501 381.2,503.4 C388,507 394,509.6 398.3,512" stroke="#e8604f"/>
    <path transform="translate(2.7,1.0)" d="M381,430 C383,440 384,446 383,452 C380,458 376,461 372.7,464 C368,468 364,472 360.7,476 C357,480 356,483 357.3,486.3 C359,490 361,493 364,495 C370,498 376,501 381.2,503.4 C388,507 394,509.6 398.3,512" stroke="#5a6fc8"/>
    <path transform="translate(3.6,1.4)" d="M381,430 C383,440 384,446 383,452 C380,458 376,461 372.7,464 C368,468 364,472 360.7,476 C357,480 356,483 357.3,486.3 C359,490 361,493 364,495 C370,498 376,501 381.2,503.4 C388,507 394,509.6 398.3,512" stroke="#f08a50"/>
    <path transform="translate(4.5,1.8)" d="M381,430 C383,440 384,446 383,452 C380,458 376,461 372.7,464 C368,468 364,472 360.7,476 C357,480 356,483 357.3,486.3 C359,490 361,493 364,495 C370,498 376,501 381.2,503.4 C388,507 394,509.6 398.3,512" stroke="#9a6ac8"/>
    <path transform="translate(-0.00,0.00)" d="M391.5,436.8 C396,437 402,438 406.8,440 C414,442 420,444 425.6,447 C430,450 434,452 435.9,455.6 C437,460 436,464 434,467.6 C432,472 430,476 429,481 C428,486 427,490 425.6,493" stroke="#b5784a"/>
    <path transform="translate(-0.35,0.70)" d="M391.5,436.8 C396,437 402,438 406.8,440 C414,442 420,444 425.6,447 C430,450 434,452 435.9,455.6 C437,460 436,464 434,467.6 C432,472 430,476 429,481 C428,486 427,490 425.6,493" stroke="#ef5a5a"/>
    <path transform="translate(-0.70,1.40)" d="M391.5,436.8 C396,437 402,438 406.8,440 C414,442 420,444 425.6,447 C430,450 434,452 435.9,455.6 C437,460 436,464 434,467.6 C432,472 430,476 429,481 C428,486 427,490 425.6,493" stroke="#f2a040"/>
    <path transform="translate(-1.05,2.10)" d="M391.5,436.8 C396,437 402,438 406.8,440 C414,442 420,444 425.6,447 C430,450 434,452 435.9,455.6 C437,460 436,464 434,467.6 C432,472 430,476 429,481 C428,486 427,490 425.6,493" stroke="#7fc06a"/>
    <path transform="translate(-1.40,2.80)" d="M391.5,436.8 C396,437 402,438 406.8,440 C414,442 420,444 425.6,447 C430,450 434,452 435.9,455.6 C437,460 436,464 434,467.6 C432,472 430,476 429,481 C428,486 427,490 425.6,493" stroke="#5a6fc8"/>
    <path transform="translate(-1.75,3.50)" d="M391.5,436.8 C396,437 402,438 406.8,440 C414,442 420,444 425.6,447 C430,450 434,452 435.9,455.6 C437,460 436,464 434,467.6 C432,472 430,476 429,481 C428,486 427,490 425.6,493" stroke="#e96a8a"/>
    <path transform="translate(-2.10,4.20)" d="M391.5,436.8 C396,437 402,438 406.8,440 C414,442 420,444 425.6,447 C430,450 434,452 435.9,455.6 C437,460 436,464 434,467.6 C432,472 430,476 429,481 C428,486 427,490 425.6,493" stroke="#f0c050"/>
    <path d="M386.3,459 C391,462 395,465 398.3,467.6 C401,470 404,471 406,472.7 C405,478 404,482 403.4,486.3 C402.5,491 402,495 401.7,498.3 L400.9,512" stroke="#f2d050"/>
    <path d="M435.9,452 C432,462 427,472 422.2,481.2 C418,488 414,493 410.2,498.3 C406,503 402,508 398.3,512 C394,517 390,522 386.3,527.3" stroke="#4a72d0"/>
    <path d="M438,453 C434,464 429,474 424.5,483 C420,490 416,496 412.5,500.5 C408,506 404,511 400.5,515 C396,520 392,525 388.5,530" stroke="#5a8fe0"/>
    <path d="M440,455 C436,466 431,476 427,485 C422,493 417,500 413,505 C408,511 404,516 400,521" stroke="#4a62c0"/>
    <path d="M386.3,448.8 C390,449 393,452 396,452 C399,452 400,456 401.7,455.6 C404,455 406,460 408.5,459 C412,458 415,465 418.8,464.1" stroke="#63c08a"/>
    <path d="M439,458 C442,460 444,458 446,462 C448,466 452,462 454,466 C455,470 451,472 449.5,472.7 C444,478 436,486 427.3,494.9" stroke="#f0a850"/>
    <path d="M441,462 C444,464 448,462 450,466 C452,470 456,468 458,470" stroke="#f2b860"/>
    <path d="M444,457 C448,456 452,458 458,456" stroke="#f0a040"/>
    <path d="M442.7,459 C445,462 447,466 449.5,471" stroke="#5ab0e8" stroke-width="1.6"/>
    <path d="M445,455 C450,452 454,452 458,450" stroke="#7a8fd8"/>
    <path d="M360.7,494.9 C364,504 368,514 371,525.6 L372,536" stroke="#ef5a4a"/>
    <path d="M357.3,486.3 C362,500 368,514 374.4,530.7 L376,540" stroke="#e8604f"/>
    <path d="M377.8,489.8 C379,494 380,498 381,501.7" stroke="#ef7a7a"/>
    <path d="M369,510 C369.5,518 370,524 371,532" stroke="#7ad0c0"/>
    <path d="M355,488 C352,498 350,508 349,518 C348,526 347,534 346,542" stroke="#63c08a"/>
    <path d="M353,490 C350,500 348,510 347,520" stroke="#3aa6a0"/>
    <path d="M398.3,512 C392,516 386,520 382,526 C380,530 378,534 378,540" stroke="#f08a50"/>
    <path d="M381.2,503.4 C384,508 386,514 386,520 C386,528 384,534 383,540" stroke="#ef5a5a"/>
    <path d="M364,495 C372,492 380,490 388,490 C396,490 402,492 408,494" stroke="#8fd0e8" stroke-width="0.8"/>
    <path d="M372,478 C380,484 388,490 396,496" stroke="#a8c8f0" stroke-width="0.8"/>
    <!-- lines going up to fan apex -->
    <path d="M396,358 C398,380 400,404 404,424 C406,432 410,438 414,442" stroke="#ef6a6a"/>
    <path d="M396,358 C402,380 410,402 420,420 C426,430 430,440 434,448" stroke="#ef7f7a"/>
    <path d="M396,358 C394,380 392,404 391,430" stroke="#e98a70"/>
    <path d="M396,358 C400,384 398,410 394,432" stroke="#f08a50"/>
    <path d="M397,360 C420,380 440,398 458,418" stroke="#c89a5a"/>
    <path d="M420,416 L440,402 L458,430" stroke="#c8a060" stroke-width="0.8"/>
    <path d="M438,400 L452,432 L458,440" stroke="#c89a5a" stroke-width="0.8"/>
  </g>
  <!-- yellow pacific cable -->
  <path d="M204,428 C212,440 224,452 234,462 C246,474 252,486 262,500 C276,516 300,532 334,541" fill="none" stroke="#f5cf50" stroke-width="1.4" opacity="0.95" filter="url(#b1)"/>
  <path d="M203,432 C210,446 220,458 228,470" fill="none" stroke="#f4e090" stroke-width="0.8" opacity="0.8"/>
  <path d="M330,536 C334,540 334,546 332,552" fill="none" stroke="#8cc63e" stroke-width="0.8"/>
  <!-- label United States -->
  <g filter="url(#b1)">
    <polygon points="284.7,372.3 321,373.3 321,384.8 284.7,384.2" fill="#2a8fd8"/>
    <polygon points="286,384 293,384.3 291,388.6" fill="#2a8fd8"/>
    <text x="289" y="381" font-size="4.6" fill="#eaf4fc" textLength="28" lengthAdjust="spacingAndGlyphs">United States</text>
  </g>
  <!-- logo -->
  <text x="113.6" y="253.6" font-size="10.6" fill="#555555" textLength="49" lengthAdjust="spacingAndGlyphs" transform="rotate(2.2 114 254)" filter="url(#b1)">COMMSCOPE</text>
  <!-- list panel -->
  <g filter="url(#b1)">
    <polygon points="207,461 295,453 295,536 207,539" fill="#dfe2e6" opacity="0.6"/>
    <polygon points="207,494.5 295,490.2 295,504 207,509.2" fill="#2e91d6"/>
    <g stroke="#4a8fd0" stroke-width="1.1" opacity="0.85">
      <line x1="213" y1="469.5" x2="254" y2="466.6"/>
      <line x1="213" y1="483" x2="274" y2="478.5"/>
      <line x1="213" y1="495.5" x2="282" y2="490"/>
      <line x1="213" y1="521" x2="276" y2="514.5"/>
      <line x1="222" y1="532.5" x2="294" y2="524"/>
    </g>
    <line x1="213" y1="507" x2="285" y2="501" stroke="#dbeaf7" stroke-width="1.1"/>
    <g stroke="#c7ccd2" stroke-width="0.5">
      <line x1="207" y1="474.5" x2="295" y2="468"/>
      <line x1="207" y1="487.5" x2="295" y2="481.5"/>
      <line x1="207" y1="515" x2="295" y2="509"/>
      <line x1="207" y1="527" x2="295" y2="520"/>
    </g>
    <!-- slider -->
    <polygon points="296,514 382,505 382,531 296,538" fill="#dfe1e4" opacity="0.3"/>
    <line x1="320" y1="520.6" x2="378" y2="516" stroke="#8fa9c8" stroke-width="0.8"/>
    <line x1="305" y1="522.2" x2="312" y2="521.7" stroke="#4a8fd0" stroke-width="1.2"/>
    <line x1="371" y1="515.8" x2="377" y2="515.3" stroke="#4a8fd0" stroke-width="1"/>
    <rect x="353.5" y="512.6" width="6.6" height="8" fill="#2e8fe0" transform="rotate(-5 356 516)"/>
  </g>
  <!-- left panel -->
  <g filter="url(#b1)">
    <polygon points="111,317.6 202.3,319.3 202.3,472.4 111,477.6" fill="url(#gPanL)"/>
    <polygon points="111,467 202.3,462 202.3,472.4 111,477.6" fill="#3a1a70" opacity="0.3"/>
    <text x="120.5" y="338.6" font-size="14.5" fill="#ecd3ee" textLength="38" lengthAdjust="spacingAndGlyphs">United</text>
    <text x="120.5" y="353.6" font-size="14.5" fill="#ecd3ee" textLength="34" lengthAdjust="spacingAndGlyphs">States</text>
    <path d="M186.6,327.6 L193.6,335 M193.6,327.6 L186.6,335" stroke="#f0d8f0" stroke-width="1" fill="none"/>
    <!-- table -->
    <g stroke="#e9c6ea" stroke-width="0.9" opacity="0.75">
      <path d="M141,370.5h11 M163,370.7h7 M176,371h11"/>
      <path d="M122,379.3h10 M141,379.2h11 M163,379.4h7 M178,379.6h8"/>
      <path d="M127,387.6h5 M141,387.4h11 M163,387.6h7 M178,387.8h8"/>
      <path d="M127,395.6h5 M141,395.4h11 M163,395.6h7 M178,395.6h8"/>
      <path d="M127,403.6h5 M141,403.4h11 M163,403.4h7 M178,403.4h8"/>
      <path d="M121,412h12 M141,411.6h11 M163,411.4h7 M178,411.2h8"/>
      <path d="M124,420.4h9 M141,419.8h11 M163,419.4h7 M178,419h8"/>
      <path d="M176,430.4h11"/>
      <path d="M121,441.4h18 M179,439.4h5"/>
      <path d="M121,457h7 M131,456.6h6"/>
      <path d="M119,473.4h11 M133,472.6h14"/>
    </g>
    <g stroke="#d9a8dc" stroke-width="0.4" opacity="0.55">
      <path d="M119,383.4L191,383.6 M119,391.6L191,391.6 M119,399.6L191,399.4 M119,407.8L191,407.2 M119,416L191,415 M119,424.4L191,423 M119,435L191,433.4 M119,447L191,444.6"/>
    </g>
    <rect x="142" y="450" width="8.5" height="9" fill="none" stroke="#edcfee" stroke-width="0.6" opacity="0.9"/>
    <rect x="155" y="449.4" width="8.5" height="9" fill="none" stroke="#d9a8dc" stroke-width="0.5" opacity="0.6"/>
  </g>
  <!-- right panel -->
  <polygon points="458.3,259 554,266 554,522 458.4,508" fill="url(#gPanR)"/>
  <polygon points="458.4,470.4 500,476 554,482 554,522 458.4,508.2" fill="url(#gInd)"/>
  <polygon points="458.4,470.4 500,476 553,482 553,470 458.4,462" fill="#2a6fd0" opacity="0.35" filter="url(#b2)"/>
  <polygon points="458.4,508.2 554,480.4 554,522" fill="url(#gMag)"/>
  <g filter="url(#b1)">
    <text x="466" y="306.6" font-size="14.6" fill="#b9dcf4" textLength="50" lengthAdjust="spacingAndGlyphs">World Data</text>
    <text x="466" y="321.6" font-size="14.6" fill="#b9dcf4" textLength="30" lengthAdjust="spacingAndGlyphs">Usage</text>
    <rect x="466.5" y="335.6" width="3" height="5" fill="none" stroke="#bfe0f5" stroke-width="0.7"/>
    <line x1="473" y1="338.6" x2="487" y2="338.9" stroke="#bfe0f5" stroke-width="1.1" opacity="0.8"/>
    <g stroke="#b9def6" stroke-width="1.7" opacity="0.4" stroke-dasharray="5 0.8 3 0.6 7 0.8 2 0.6 4 0.8">
      <path d="M466,350.4L530,352 M466,356L533,357.6 M466,361.6L531,363.2 M466,367.2L532,368.8 M466,372.8L530,374.4 M466,378.4L533,380 M466,384L531,385.6 M466,389.6L533,391.2 M466,395.2L531,396.8 M466,400.8L534,402.4 M466,406.4L532,408 M466,412L533,413.6 M466,417.6L531,419.2 M466,423.2L474,423.4"/>
    </g>
    <polygon points="466,450.6 497,449.6 497,460.4 466,461" fill="none" stroke="#8fcaf0" stroke-width="0.6"/>
    <line x1="470" y1="456" x2="493" y2="454.8" stroke="#d2e9f8" stroke-width="1.1" opacity="0.85"/>
    <rect x="467" y="485" width="3" height="5" fill="#cdd6f2" opacity="0.85" transform="rotate(-6 468 487)"/>
    <line x1="474" y1="487.6" x2="502" y2="483.2" stroke="#d3d9f4" stroke-width="1.4" opacity="0.85"/>
    <rect x="515" y="496.5" width="13" height="11" fill="none" stroke="#d88fd0" stroke-width="0.5" stroke-dasharray="1 0.8"/>
    <rect x="533" y="495" width="13" height="11" fill="none" stroke="#e3a4dc" stroke-width="0.5"/>
    <line x1="518" y1="502.6" x2="525" y2="502.4" stroke="#d99ad4" stroke-width="2.4"/>
    <line x1="536" y1="500.2" x2="543" y2="500" stroke="#f0d6ee" stroke-width="1.3"/>
  </g>
</g>
<!-- TV frame -->
<path d="M101.6,230.8 L553.3,267.4 L553.3,511 L101.6,566.7 Q99.6,567 99.6,565.6 L99.6,232.6 Q99.6,230.6 101.6,230.8 Z" fill="none" stroke="#1c1c1c" stroke-width="1.5" stroke-linejoin="round"/>
<path d="M100.9,233 L100.9,565" stroke="#9a9a9a" stroke-width="1.2" fill="none"/>
<!-- ================= TABLET ================= -->
<defs><linearGradient id="gBoxTop" gradientUnits="userSpaceOnUse" x1="340" y1="0" x2="690" y2="0"><stop offset="0" stop-color="#9a9a9a"/><stop offset="0.5" stop-color="#6e6e6e"/><stop offset="1" stop-color="#4a4a4a"/></linearGradient></defs>
<rect x="615.6" y="369.8" width="357" height="250" rx="13" ry="13" fill="#9a9a9a" opacity="0.55" filter="url(#b1)"/>
<rect x="615.2" y="369.2" width="356.8" height="249.2" rx="12.5" ry="12.5" fill="#000000"/>
<rect x="644.8" y="383.3" width="296.6" height="221.6" fill="#ebebea"/>
<circle cx="630.8" cy="493.7" r="2.7" fill="#1a1a1a" stroke="#9a9a9a" stroke-width="1"/>
<circle cx="956.7" cy="493.5" r="8" fill="none" stroke="#a8a8a8" stroke-width="1.1"/>
<rect x="952.4" y="489.2" width="8.6" height="8.6" rx="1.6" fill="none" stroke="#b4b4b4" stroke-width="1.2"/>
<!-- zoom buttons -->
<rect x="919.6" y="474.7" width="10.4" height="10.8" fill="#f1f1f0"/>
<rect x="919.6" y="492" width="10.4" height="10.4" fill="#f1f1f0"/>
<path d="M922.4,480.1h4.8 M924.8,477.7v4.8" stroke="#6f8fc8" stroke-width="1" fill="none"/>
<path d="M922.2,497.6h5.4" stroke="#7f95c0" stroke-width="0.9" fill="none"/>
<!-- bottom UI -->
<rect x="748" y="590" width="44.6" height="7.8" fill="#f3f3f2"/>
<rect x="793.6" y="590" width="11" height="7.8" fill="#efefee"/>
<rect x="809" y="590" width="9.5" height="7.8" fill="#f1f1f0"/>
<rect x="824" y="589.4" width="35" height="8.6" fill="#2170d6"/>
<line x1="759" y1="594" x2="788" y2="594" stroke="#6fa0dc" stroke-width="1.2"/>
<line x1="752.5" y1="594" x2="755" y2="594" stroke="#7f95c0" stroke-width="1"/>
<line x1="813.5" y1="592.6" x2="813.5" y2="595.4" stroke="#8aa0c8" stroke-width="0.8"/>
<line x1="830" y1="593.8" x2="853" y2="593.8" stroke="#9cc0f0" stroke-width="1.4" stroke-dasharray="3 0.6 2 0.5"/>
<!-- 3D model : zoom [660,390,900,560] scale 3.7875 -->
<g filter="url(#b1)">
<g transform="translate(660,390) scale(0.26403)">
  <!-- top box -->
  <polygon points="337.8,89 528,53.8 698,51.5 645.4,89 495.4,86.4 478,89" fill="url(#gBoxTop)"/>
  <polygon points="645.4,89 698,51.5 700.7,73.9 648,169" fill="#363636"/>
  <rect x="476" y="89" width="22" height="84" fill="#5a5a5a"/>
  <rect x="337.8" y="89" width="140.2" height="84.8" rx="9" fill="#b3b3b3"/>
  <rect x="495.4" y="86.4" width="150" height="92.4" rx="9" fill="#bcbcbc"/>
  <g fill="#a2a2a2"><rect x="360" y="128" width="14" height="9"/><rect x="405" y="130" width="14" height="9"/>
  <rect x="518" y="100" width="14" height="9"/><rect x="572" y="100" width="14" height="9"/>
  <circle cx="515" cy="124" r="5"/><circle cx="545" cy="124" r="5"/><circle cx="567" cy="124" r="5"/><circle cx="600" cy="124" r="5"/>
  <rect x="508" y="146" width="12" height="9"/><rect x="536" y="146" width="12" height="9"/><rect x="560" y="146" width="12" height="9"/><rect x="592" y="146" width="12" height="9"/></g>
  <!-- antenna brackets -->
  <rect x="525" y="196" width="55" height="22" rx="5" fill="#d9d9d9" stroke="#9a9a9a" stroke-width="4"/>
  <rect x="612" y="196" width="58" height="22" rx="5" fill="#d9d9d9" stroke="#9a9a9a" stroke-width="4"/>
  <rect x="432" y="270" width="65" height="24" rx="5" fill="#d6d6d6" stroke="#9e9e9e" stroke-width="4"/>
  <rect x="575" y="278" width="58" height="22" rx="5" fill="#d9d9d9" stroke="#a2a2a2" stroke-width="4"/>
  <rect x="590" y="320" width="55" height="30" rx="5" fill="#dcdcdc" stroke="#a8a8a8" stroke-width="4"/>
  <rect x="560" y="430" width="50" height="40" rx="6" fill="#dcdcdc" stroke="#a8a8a8" stroke-width="4"/>
  <!-- left big box -->
  <polygon points="80,420 200,366 216,372 216,520 130,570 100,556" fill="#a6a6a6"/>
  <polygon points="80,420 100,430 130,570 100,556" fill="#8c8c8c"/>
  <polygon points="80,420 200,366 216,372 100,430" fill="#b5b5b5"/>
  <!-- second box -->
  <polygon points="216,372 290,326 306,336 306,440 240,462 218,455" fill="#a9a9a9"/>
  <polygon points="216,372 290,326 306,336 232,382" fill="#b8b8b8"/>
  <!-- small boxes -->
  <polygon points="255,402 340,380 346,455 270,482" fill="#989898"/>
  <polygon points="255,402 272,412 278,480 270,482" fill="#7e7e7e"/>
  <polygon points="255,402 340,380 346,392 272,414" fill="#b0b0b0"/>
  <polygon points="265,492 350,462 356,532 280,562" fill="#9a9a9a"/>
  <polygon points="265,492 282,500 288,560 280,562" fill="#7f7f7f"/>
  <polygon points="265,492 350,462 354,474 282,502" fill="#b2b2b2"/>
  <!-- tall thin box -->
  <polygon points="365,240 420,230 422,322 370,332" fill="#9b9b9b"/>
  <polygon points="365,240 378,244 382,330 370,332" fill="#858585"/>
  <polygon points="368,340 420,330 422,400 372,410" fill="#9f9f9f"/>
  <!-- tower -->
  <polygon points="372,400 470,380 476,418 378,438" fill="#b4b4b4"/>
  <polygon points="366,420 392,416 394,570 372,574" fill="#a6a6a6"/>
  <polygon points="404,414 426,410 428,566 408,570" fill="#a9a9a9"/>
  <polygon points="392,440 404,438 406,470 394,472" fill="#c9c9c9"/>
  <polygon points="392,490 404,488 406,520 394,522" fill="#c9c9c9"/>
  <polygon points="392,536 404,534 406,562 394,564" fill="#c4c4c4"/>
  <polygon points="463,340 512,330 514,596 466,598" fill="#a2a2a2"/>
  <polygon points="463,340 478,344 480,598 466,598" fill="#8c8c8c"/>
  <polygon points="512,330 544,322 546,560 514,570" fill="#b4b4b4"/>
  <polygon points="524,340 534,338 536,540 526,544" fill="#dcdcdc"/>
  <circle cx="495" cy="470" r="5" fill="#d8d8d8"/><circle cx="496" cy="520" r="5" fill="#d8d8d8"/>
  <polygon points="466,300 640,288 646,318 470,332" fill="#b9b9b9"/>
  <polygon points="466,300 640,288 641,296 468,308" fill="#d2d2d2"/>
  <polygon points="596,208 622,222 420,438 396,424" fill="#9c9c9c"/>
  <polygon points="604,212 616,219 414,434 404,428" fill="#d0d0d0"/>
  <polygon points="556,330 584,326 566,470 546,474" fill="#b0b0b0"/>
  <polygon points="590,350 610,348 594,450 578,452" fill="#c2c2c2"/>
  <polygon points="576,470 590,468 590,528 576,530" fill="#b0b0b0"/>
  <polygon points="548,486 580,482 582,498 550,502" fill="#b6b6b6"/>
  <!-- base -->
  <polygon points="430,591 520,591 544,650 540,700 500,715 420,715 386,700 383,650" fill="#aaaaaa"/>
  <polygon points="383,650 402,606 410,690 392,706" fill="#6e6e6e"/>
  <polygon points="526,612 544,650 541,700 528,706" fill="#7a7a7a"/>
  <polygon points="425,600 470,598 470,690 428,690" fill="#c6c6c6"/>
  <polygon points="484,598 526,602 524,690 486,690" fill="#bdbdbd"/>
  <polygon points="440,600 452,600 452,690 440,690" fill="#9a9a9a"/>
  <polygon points="498,600 510,600 510,690 498,690" fill="#9c9c9c"/>
  <polygon points="396,690 536,690 530,716 404,716" fill="#9a9a9a"/>
  <polygon points="440,716 500,716 486,728 452,728" fill="#dedede"/>
  <polygon points="408,728 526,728 522,752 412,752" fill="#b6b6b6"/>
  <polygon points="408,738 526,738 526,742 408,742" fill="#8a8a8a"/>
  <!-- right box -->
  <polygon points="712,326 755,326 760,440 704,446" fill="#a9a9a9"/>
  <polygon points="712,326 755,326 752,336 714,336" fill="#bcbcbc"/>
  <polygon points="700,440 770,436 776,600 696,612" fill="#a6a6a6"/>
  <polygon points="700,440 716,444 712,610 696,612" fill="#8e8e8e"/>
  <polygon points="716,490 770,486 774,596 714,604" fill="#a0a0a0"/>
  <g fill="#c6c6c6"><circle cx="732" cy="510" r="6"/><circle cx="756" cy="508" r="6"/><circle cx="744" cy="532" r="6"/><circle cx="730" cy="556" r="6"/><circle cx="758" cy="554" r="6"/><circle cx="744" cy="580" r="6"/></g>
</g>
</g>
</g>
</svg>
</body>
</html>
